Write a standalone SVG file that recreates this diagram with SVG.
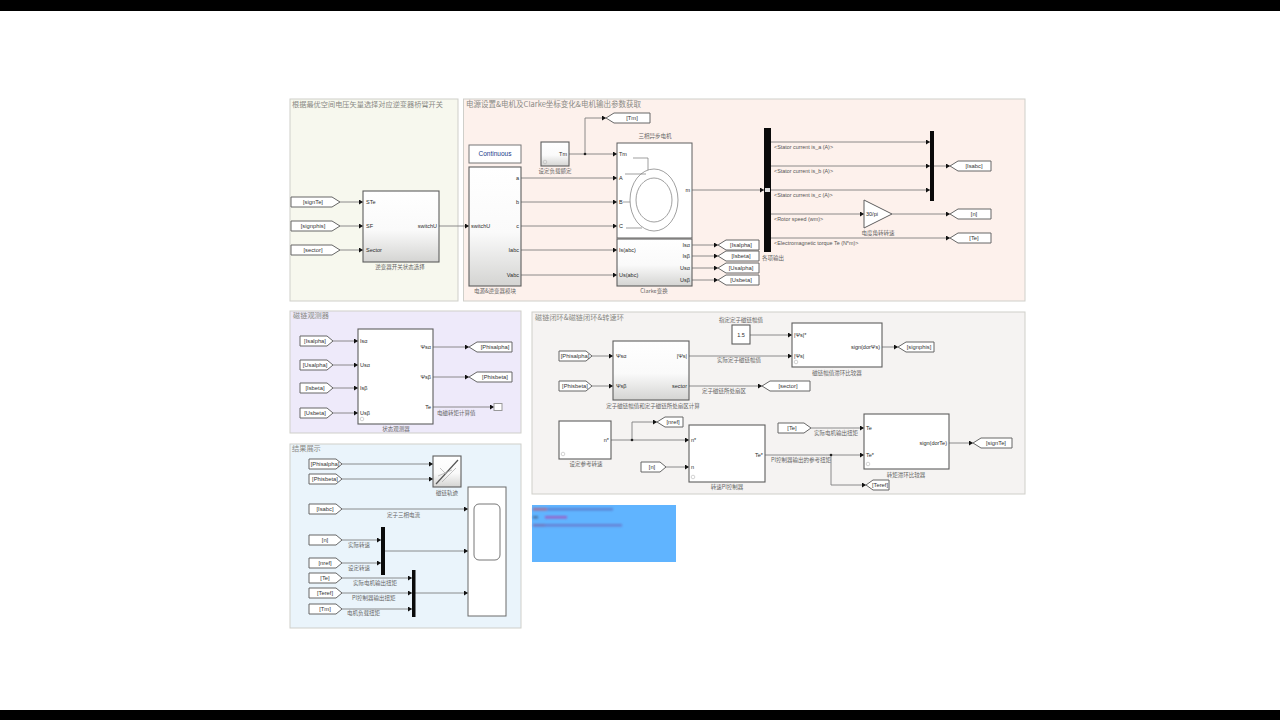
<svg xmlns="http://www.w3.org/2000/svg" width="1280" height="720" viewBox="0 0 1280 720">
<style>
text{font-family:"Liberation Sans","Noto Sans CJK SC",sans-serif;fill:#2a2a2a}
.p{font-size:5.5px}
.e{text-anchor:end}
.m{text-anchor:middle}
.l{font-size:5.5px;fill:#666;font-family:"Noto Sans CJK SC",sans-serif}
.s{font-size:5.4px;fill:#555}
.t{font-size:7.2px;fill:#8a8a85;font-family:"Noto Sans CJK SC",sans-serif}
.tag{font-size:5.8px;text-anchor:middle;fill:#333}
.panel{stroke:#cfcfca;stroke-width:1}
.b{fill:#fff;stroke:#5e5e5e;stroke-width:1.100}
.g{fill:url(#sh);stroke:#5e5e5e;stroke-width:1.100}
.pt{fill:#fff;stroke:#666;stroke-width:1}
.bar{fill:#0a0a0a}
#connectors path{fill:none;stroke:#808080;stroke-width:.9;marker-end:url(#a)}
.dot{fill:#222}
.thin{fill:none;stroke:#777;stroke-width:.7}
.ico{fill:none;stroke:#b5b5b5;stroke-width:.6}
.sm{opacity:.7}
</style>
<defs>
<linearGradient id="sh" x1="0" y1="0" x2="0" y2="1"><stop offset="0" stop-color="#fff"/><stop offset=".55" stop-color="#fafafa"/><stop offset="1" stop-color="#d4d4d2"/></linearGradient>
<marker id="a" markerUnits="userSpaceOnUse" markerWidth="5" markerHeight="5" refX="4" refY="2.5" orient="auto"><path d="M0,0L4,2.5L0,5Z" fill="#111"/></marker>
<filter id="soft" x="-10%" y="-100%" width="120%" height="300%"><feGaussianBlur stdDeviation=".8"/></filter>
<circle id="icon" class="ico" r="1.800"/>
</defs>
<rect width="1280" height="720" fill="#fff"/>
<rect id="top-band" width="1280" height="11" fill="#000"/>
<rect id="bottom-band" y="710" width="1280" height="10" fill="#000"/>

<g id="panels">
<rect class="panel" x="290" y="99" width="168" height="202" fill="#f7f8ee"/>
<rect class="panel" x="463.5" y="99" width="561.5" height="202" fill="#fdf1ec"/>
<rect class="panel" x="290" y="311" width="231" height="122" fill="#eeeafa"/>
<rect class="panel" x="290" y="444" width="231" height="184" fill="#eaf4fb"/>
<rect class="panel" x="532" y="312" width="493" height="182" fill="#f5f3f2"/>
<text class="t" x="292" y="106.500">根据最优空间电压矢量选择对应逆变器桥臂开关</text>
<text class="t" x="466" y="106.500" style="font-size:7.500px">电源设置&amp;电机及Clarke坐标变化&amp;电机输出参数获取</text>
<text class="t" x="293" y="318">磁链观测器</text>
<text class="t" x="292" y="451">结果展示</text>
<text class="t" x="535" y="320">磁链闭环&amp;磁链闭环&amp;转速环</text>
</g>

<g id="connectors">
<path d="M340,202H363"/><path d="M340,226H363"/><path d="M340,250H363"/>
<path d="M439,226H469"/>
<path d="M521,178H617"/><path d="M521,202H617"/><path d="M521,226H617"/><path d="M521,250H617"/><path d="M521,275H617"/>
<path d="M569,154H617"/><path d="M585,154V118H606"/>
<path d="M692,190H764"/>
<path d="M692,245H718"/><path d="M692,256H718"/><path d="M692,268H718"/><path d="M692,280H718"/>
<path d="M771,142H930"/><path d="M771,166H930"/><path d="M771,190H930"/>
<path d="M771,214H864"/><path d="M892,214H950"/><path d="M771,238H950"/><path d="M934,166H950"/>
<path d="M333,341H358"/><path d="M333,365H358"/><path d="M333,388H358"/><path d="M333,413H358"/>
<path d="M433,347H469"/><path d="M433,377H469"/><path d="M433,407H494"/>
<path d="M342,464H433"/><path d="M342,479H433"/><path d="M342,509H468"/>
<path d="M342,540H381"/><path d="M342,563H381"/><path d="M385,551H468"/>
<path d="M342,578H412"/><path d="M342,593H412"/><path d="M342,609H412"/><path d="M415,593H468"/>
<path d="M592,356H613"/><path d="M592,386H613"/>
<path d="M689,356H792"/><path d="M750,335H792"/><path d="M689,386H762"/>
<path d="M882,347H898"/>
<path d="M611,440H689"/><path d="M632,440V422H657"/><path d="M666,467H689"/>
<path d="M765,455H864"/><path d="M831,455V485H866"/>
<path d="M811,428H864"/><path d="M949,443H973"/>
<circle class="dot" cx="585" cy="154" r="1.300"/><circle class="dot" cx="632" cy="440" r="1.300"/><circle class="dot" cx="831" cy="455" r="1.300"/>
</g>

<g id="tag-signTe"><polygon class="pt" points="291,197 332,197 340,202 332,207 291,207"/><text class="tag" x="313" y="204">[signTe]</text></g>
<g id="tag-signphis"><polygon class="pt" points="291,221 332,221 340,226 332,231 291,231"/><text class="tag" x="313" y="228">[signphis]</text></g>
<g id="tag-sector"><polygon class="pt" points="291,245 332,245 340,250 332,255 291,255"/><text class="tag" x="313" y="252">[sector]</text></g>

<g id="switch-select"><rect class="g" x="363" y="191" width="76" height="71"/>
<text class="p" x="366" y="204">STe</text><text class="p" x="366" y="228">SF</text><text class="p" x="366" y="252">Sector</text><text class="p e" x="437" y="228">switchU</text>
<text class="l m" x="400" y="269">逆变器开关状态选择</text></g>

<g id="powergui"><rect x="469" y="145" width="52" height="18" fill="#fff" stroke="#777"/><text class="m" x="495" y="156" font-size="6.500" style="fill:#223a8a">Continuous</text></g>
<g id="inverter"><rect class="g" x="469" y="167" width="52" height="119"/>
<text class="p" x="471" y="228">switchU</text><text class="p e" x="519" y="180">a</text><text class="p e" x="519" y="204">b</text><text class="p e" x="519" y="228">c</text><text class="p e" x="519" y="252">Iabc</text><text class="p e" x="519" y="277">Vabc</text>
<text class="l m" x="495" y="293">电源&amp;逆变器模块</text></g>

<g id="load-torque"><rect class="g" x="541" y="142" width="28" height="24"/><use href="#icon" x="545" y="162"/><text class="p e" x="567" y="156">Tm</text><text class="l m" x="555" y="173">设定负载额定</text></g>
<g id="tag-Tm-goto"><polygon class="pt" points="606,118 614,113 650,113 650,123 614,123"/><text class="tag" x="632" y="120">[Tm]</text></g>

<g id="motor"><rect x="617" y="143" width="75" height="95" fill="#fff" stroke="#5e5e5e"/>
<ellipse class="thin" cx="654" cy="200" rx="24" ry="31"/><ellipse class="thin" cx="654" cy="200" rx="18" ry="22"/>
<path class="thin" d="M633,158H648V170"/><path class="thin" d="M625,174H646"/><path class="thin" d="M623,202H630"/><path class="thin" d="M626,228H642"/>
<text class="p" x="619" y="156">Tm</text><text class="p" x="619" y="180">A</text><text class="p" x="619" y="204">B</text><text class="p" x="619" y="228">C</text><text class="p e" x="690" y="192">m</text>
<text class="l m" x="655" y="138">三相异步电机</text></g>

<g id="clarke"><rect class="g" x="617" y="239" width="75" height="47"/>
<text class="p" x="619" y="252">Is(abc)</text><text class="p" x="619" y="277">Us(abc)</text>
<text class="p e" x="690" y="247">Isα</text><text class="p e" x="690" y="258">Isβ</text><text class="p e" x="690" y="270">Usα</text><text class="p e" x="690" y="282">Usβ</text>
<text class="l m" x="654" y="293">Clarke变换</text></g>
<g id="tag-Isalpha"><polygon class="pt" points="718,245 726,240 759,240 759,250 726,250"/><text class="tag" x="741" y="247">[Isalpha]</text></g>
<g id="tag-Isbeta"><polygon class="pt" points="718,256 726,251 759,251 759,261 726,261"/><text class="tag" x="741" y="258">[Isbeta]</text></g>
<g id="tag-Usalpha"><polygon class="pt" points="718,268 726,263 759,263 759,273 726,273"/><text class="tag" x="741" y="270">[Usalpha]</text></g>
<g id="tag-Usbeta"><polygon class="pt" points="718,280 726,275 759,275 759,285 726,285"/><text class="tag" x="741" y="282">[Usbeta]</text></g>

<g id="bus-selector"><rect class="bar" x="764" y="128" width="7" height="124"/><rect x="765" y="188" width="5" height="4" fill="#ddd"/><text class="l" x="762" y="260">各项输出</text></g>
<g id="signal-labels">
<text class="s" x="774" y="149">&lt;Stator current is_a (A)&gt;</text>
<text class="s" x="774" y="173">&lt;Stator current is_b (A)&gt;</text>
<text class="s" x="774" y="197">&lt;Stator current is_c (A)&gt;</text>
<text class="s" x="774" y="221">&lt;Rotor speed (wm)&gt;</text>
<text class="s" x="774" y="245">&lt;Electromagnetic torque Te (N*m)&gt;</text>
</g>
<g id="mux-isabc"><rect class="bar" x="930" y="131" width="4" height="70"/></g>
<g id="gain"><polygon points="864,200 892,214 864,228" fill="#fff" stroke="#5e5e5e"/><text class="p" x="866" y="216">30/pi</text><text class="l m" x="878" y="235">电度角转转速</text></g>
<g id="tag-Isabc"><polygon class="pt" points="950,166 958,161 991,161 991,171 958,171"/><text class="tag" x="974" y="168">[Isabc]</text></g>
<g id="tag-n"><polygon class="pt" points="950,214 958,209 991,209 991,219 958,219"/><text class="tag" x="974" y="216">[n]</text></g>
<g id="tag-Te"><polygon class="pt" points="950,238 958,233 991,233 991,243 958,243"/><text class="tag" x="974" y="240">[Te]</text></g>

<g id="from-Isalpha"><polygon class="pt" points="300,336 327,336 333,341 327,346 300,346"/><text class="tag" x="315" y="343">[Isalpha]</text></g>
<g id="from-Usalpha"><polygon class="pt" points="300,360 327,360 333,365 327,370 300,370"/><text class="tag" x="315" y="367">[Usalpha]</text></g>
<g id="from-Isbeta"><polygon class="pt" points="300,383 327,383 333,388 327,393 300,393"/><text class="tag" x="315" y="390">[Isbeta]</text></g>
<g id="from-Usbeta"><polygon class="pt" points="300,408 327,408 333,413 327,418 300,418"/><text class="tag" x="315" y="415">[Usbeta]</text></g>
<g id="observer"><rect class="b" x="358" y="329" width="75" height="95"/><use href="#icon" x="362" y="419"/>
<text class="p" x="360" y="343">Isα</text><text class="p" x="360" y="367">Usα</text><text class="p" x="360" y="390">Isβ</text><text class="p" x="360" y="415">Usβ</text>
<text class="p e" x="431" y="349">Ψsα</text><text class="p e" x="431" y="379">Ψsβ</text><text class="p e" x="431" y="409">Te</text>
<text class="l m" x="396" y="431">状态观测器</text></g>
<text class="l" x="437" y="414.500">电磁转矩计算值</text>
<g id="goto-Phisalpha"><polygon class="pt" points="469,347 477,342 512,342 512,352 477,352"/><text class="tag" x="495" y="349">[Phisalpha]</text></g>
<g id="goto-Phisbeta"><polygon class="pt" points="469,377 477,372 512,372 512,382 477,382"/><text class="tag" x="495" y="379">[Phisbeta]</text></g>
<g id="terminator"><rect x="494" y="403.500" width="8" height="7" fill="#fff" stroke="#999"/></g>

<g id="from-Phisalpha2"><polygon class="pt" points="309,459 336,459 342,464 336,469 309,469"/><text class="tag" x="325" y="466">[Phisalpha]</text></g>
<g id="from-Phisbeta2"><polygon class="pt" points="309,474 336,474 342,479 336,484 309,484"/><text class="tag" x="325" y="481">[Phisbeta]</text></g>
<g id="from-Isabc"><polygon class="pt" points="309,504 336,504 342,509 336,514 309,514"/><text class="tag" x="325" y="511">[Isabc]</text></g>
<g id="from-n"><polygon class="pt" points="309,535 336,535 342,540 336,545 309,545"/><text class="tag" x="325" y="542">[n]</text></g>
<g id="from-nref"><polygon class="pt" points="309,558 336,558 342,563 336,568 309,568"/><text class="tag" x="325" y="565">[nref]</text></g>
<g id="from-Te"><polygon class="pt" points="309,573 336,573 342,578 336,583 309,583"/><text class="tag" x="325" y="580">[Te]</text></g>
<g id="from-Teref"><polygon class="pt" points="309,588 336,588 342,593 336,598 309,598"/><text class="tag" x="325" y="595">[Teref]</text></g>
<g id="from-Tm"><polygon class="pt" points="309,604 336,604 342,609 336,614 309,614"/><text class="tag" x="325" y="611">[Tm]</text></g>
<g id="xy-graph"><rect class="g" x="433" y="456" width="28" height="31"/><path d="M436,484L458,460" stroke="#555" stroke-width="1.200"/><path d="M438,476L452,470M442,482L456,468M440,468L446,474" stroke="#aaa" stroke-width=".7"/><text class="l m" x="447" y="495">磁链轨迹</text></g>
<g id="scope"><rect x="468" y="487" width="38" height="129" fill="#fff" stroke="#6a6a6a"/><rect x="474" y="504" width="26" height="56" rx="5" fill="#fff" stroke="#777"/></g>
<g id="mux-speed"><rect class="bar" x="381" y="527" width="4" height="48"/></g>
<g id="mux-torque"><rect class="bar" x="412" y="570" width="3.500" height="47"/></g>
<g id="result-labels">
<text class="l" x="387" y="517">定子三相电流</text>
<text class="l" x="348" y="547">实际转速</text>
<text class="l" x="348" y="570">设定转速</text>
<text class="l" x="353" y="585">实际电机输出扭矩</text>
<text class="l" x="352" y="600">PI控制器输出扭矩</text>
<text class="l" x="347" y="615">电机负载扭矩</text>
</g>

<g id="from-Phisalpha3"><polygon class="pt" points="559,351 586,351 592,356 586,361 559,361"/><text class="tag" x="575" y="358">[Phisalpha]</text></g>
<g id="from-Phisbeta3"><polygon class="pt" points="559,381 586,381 592,386 586,391 559,391"/><text class="tag" x="575" y="388">[Phisbeta]</text></g>
<g id="flux-calc"><rect class="g" x="613" y="341" width="76" height="59"/>
<text class="p" x="616" y="358">Ψsα</text><text class="p" x="616" y="388">Ψsβ</text><text class="p e" x="687" y="358">|Ψs|</text><text class="p e" x="687" y="388">sector</text>
<text class="l m" x="653" y="408">定子磁链幅值和定子磁链所处扇区计算</text></g>
<g id="const-flux"><rect class="b" x="732" y="325" width="18" height="19"/><text class="p m" x="741" y="336.500">1.5</text><text class="l m" x="741" y="322">指定定子磁链幅值</text></g>
<text class="l" x="717" y="362">实际定子磁链幅值</text>
<text class="l" x="702" y="393">定子磁链所处扇区</text>
<g id="goto-sector"><polygon class="pt" points="762,386 770,381 810,381 810,391 770,391"/><text class="tag" x="788" y="388">[sector]</text></g>
<g id="flux-comp"><rect class="b" x="792" y="323" width="90" height="44"/><use href="#icon" x="796" y="362"/>
<text class="p" x="794" y="337">|Ψs|*</text><text class="p" x="794" y="358">|Ψs|</text><text class="p e" x="880" y="349">sign(dorΨs)</text>
<text class="l m" x="837" y="375">磁链幅值滞环比较器</text></g>
<g id="goto-signphis"><polygon class="pt" points="898,347 906,342 934,342 934,352 906,352"/><text class="tag" x="919" y="349">[signphis]</text></g>
<g id="speed-ref"><rect class="b" x="559" y="421" width="52" height="38"/><use href="#icon" x="563" y="454"/><text class="p e" x="609" y="442">n*</text><text class="l m" x="586" y="466">设定参考转速</text></g>
<g id="goto-nref"><polygon class="pt" points="657,422 665,417 683,417 683,427 665,427"/><text class="tag" x="673" y="424">[nref]</text></g>
<g id="from-n2"><polygon class="pt" points="641,462 660,462 666,467 660,472 641,472"/><text class="tag" x="652" y="469">[n]</text></g>
<g id="pi-control"><rect class="b" x="689" y="425" width="76" height="57"/><use href="#icon" x="693" y="477"/>
<text class="p" x="691" y="442">n*</text><text class="p" x="691" y="469">n</text><text class="p e" x="763" y="457">Te*</text>
<text class="l m" x="727" y="489">转速PI控制器</text></g>
<g id="from-Te2"><polygon class="pt" points="778,423 804,423 811,428 804,433 778,433"/><text class="tag" x="792" y="430">[Te]</text></g>
<text class="l" x="814" y="435">实际电机输出扭矩</text>
<text class="l" x="771" y="462">PI控制器输出的参考扭矩</text>
<g id="torque-comp"><rect class="b" x="864" y="414" width="85" height="55"/><use href="#icon" x="868" y="464"/>
<text class="p" x="866" y="430">Te</text><text class="p" x="866" y="457">Te*</text><text class="p e" x="947" y="445">sign(dorTe)</text>
<text class="l m" x="906" y="477">转矩滞环比较器</text></g>
<g id="goto-signTe"><polygon class="pt" points="973,443 981,438 1012,438 1012,448 981,448"/><text class="tag" x="996" y="445">[signTe]</text></g>
<g id="goto-Teref"><polygon class="pt" points="866,485 873,480 889,480 889,490 873,490"/><text class="tag" x="880" y="487">[Teref]</text></g>

<g id="info-box"><rect x="532" y="505" width="144" height="57" fill="#60b4ff"/>
<g filter="url(#soft)" class="sm">
<rect x="533" y="508" width="14" height="2.500" fill="#c0506a"/><rect x="547" y="508" width="66" height="2.500" fill="#5a6fc0"/>
<rect x="533" y="516" width="5" height="2.500" fill="#445a80"/><rect x="545" y="516" width="22" height="2.500" fill="#b040b0"/>
<rect x="533" y="524" width="12" height="2.500" fill="#7a5aa0"/><rect x="545" y="524" width="77" height="2.500" fill="#6a6ac0"/>
</g></g>
</svg>
